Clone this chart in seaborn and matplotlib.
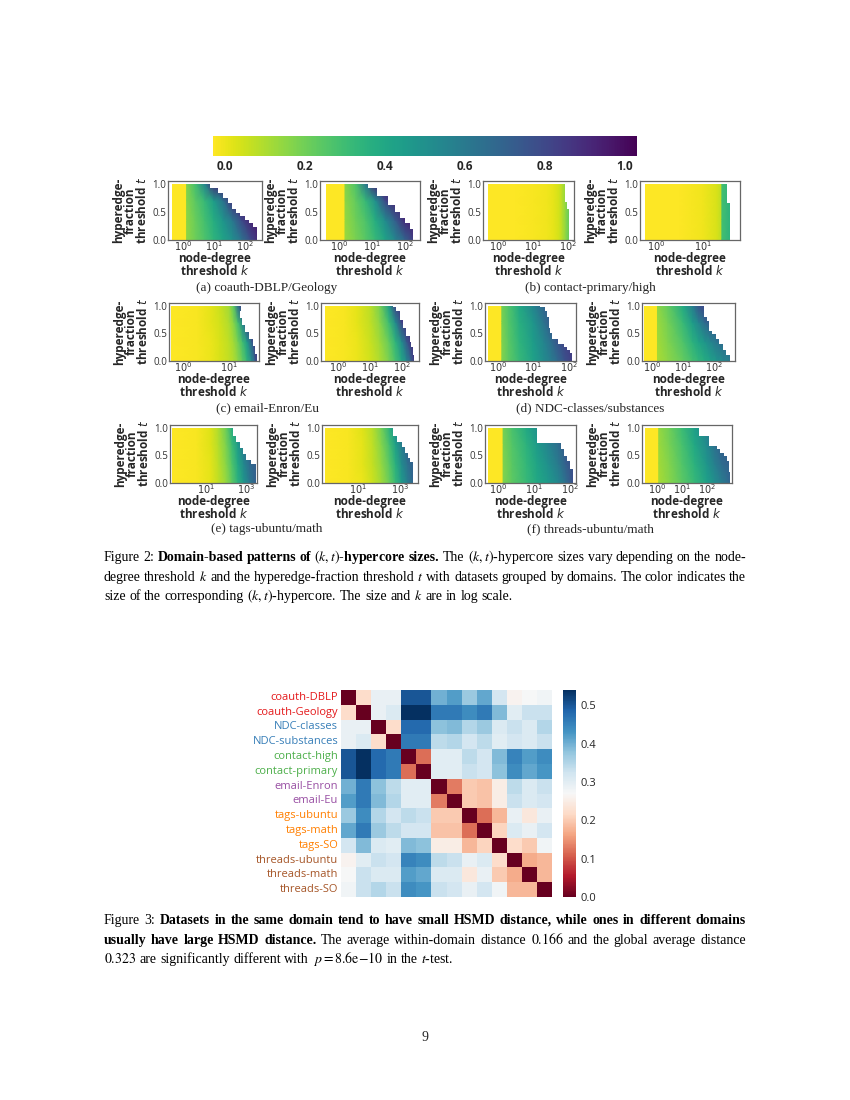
import numpy as np
import matplotlib
matplotlib.use("Agg")
import matplotlib.pyplot as plt
from matplotlib.patches import Polygon
from matplotlib.cm import ScalarMappable
from matplotlib.colors import Normalize
import seaborn as sns

# ------------------------------------------------------------------ data
# (k,t)-hypercore size panels: node positions in log10(k), colour values at
# those nodes for t = T_NODES, boundary steps (t_start, log10 kmax)
T_NODES = [0.0, 0.35, 0.7, 1.0]

A1_x = [-0.36, 0.11, 0.12, 0.4, 0.7, 1.0, 1.3, 1.6, 1.9, 2.2, 2.45]
A1_v = [[0, 0, 0.17, 0.22, 0.28, 0.35, 0.42, 0.50, 0.62, 0.78, 0.90],
        [0, 0, 0.17, 0.23, 0.30, 0.38, 0.48, 0.60, 0.78, 0.90, 0.92],
        [0, 0, 0.18, 0.25, 0.33, 0.45, 0.62, 0.85, 0.92, 0.92, 0.92],
        [0, 0, 0.19, 0.30, 0.55, 0.88, 0.92, 0.92, 0.92, 0.92, 0.92]]
A1_bound = [(0.0, 2.40), (0.18, 2.38), (0.24, 2.25), (0.30, 2.14), (0.36, 2.0), (0.42, 1.84),
            (0.48, 1.71), (0.56, 1.57), (0.65, 1.46), (0.74, 1.30), (0.83, 1.14), (0.92, 0.87)]

A2_x = [-0.39, 0.17, 0.18, 0.5, 0.8, 1.1, 1.4, 1.7, 2.0, 2.3]
A2_v = [[0, 0, 0.15, 0.20, 0.26, 0.33, 0.42, 0.54, 0.68, 0.85],
        [0, 0, 0.16, 0.22, 0.28, 0.38, 0.52, 0.70, 0.88, 0.90],
        [0, 0, 0.17, 0.24, 0.33, 0.50, 0.78, 0.90, 0.90, 0.90],
        [0, 0, 0.18, 0.28, 0.60, 0.90, 0.90, 0.90, 0.90, 0.90]]
A2_bound = [(0.0, 2.24), (0.2, 2.15), (0.3, 2.0), (0.4, 1.85), (0.5, 1.7), (0.62, 1.48),
            (0.78, 1.14), (0.92, 0.88)]

B1_x = [-0.29, 0.5, 1.0, 1.4, 1.6, 1.75, 1.85, 1.95, 2.05]
B1_v = [[0, 0.0, 0.01, 0.02, 0.04, 0.07, 0.12, 0.18, 0.25]] * 4
B1_bound = [(0.0, 2.03), (0.55, 1.97), (0.68, 1.90)]

B2_x = [-0.25, 0.5, 1.0, 1.3, 1.40, 1.41, 1.6]
B2_v = [[0, 0.0, 0.02, 0.06, 0.10, 0.30, 0.36]] * 4
B2_bound = [(0.0, 1.59), (0.65, 1.52)]

C1_x = [-0.27, 0.3, 0.6, 0.8, 1.0, 1.1, 1.2, 1.3, 1.4, 1.5, 1.58, 1.65]
C1_v = [[0, 0.01, 0.03, 0.06, 0.09, 0.12, 0.17, 0.24, 0.34, 0.50, 0.72, 0.85],
        [0, 0.01, 0.03, 0.06, 0.10, 0.14, 0.21, 0.31, 0.46, 0.70, 0.85, 0.85],
        [0, 0.01, 0.04, 0.07, 0.12, 0.18, 0.30, 0.55, 0.80, 0.85, 0.85, 0.85],
        [0, 0.01, 0.04, 0.08, 0.14, 0.25, 0.65, 0.85, 0.85, 0.85, 0.85, 0.85]]
C1_bound = [(0.0, 1.62), (0.12, 1.58), (0.28, 1.52), (0.4, 1.44), (0.52, 1.36), (0.65, 1.28),
            (0.78, 1.24), (0.9, 1.26)]

C2_x = [-0.41, 0.2, 0.6, 1.0, 1.3, 1.6, 1.8, 2.0, 2.15, 2.3, 2.4]
C2_v = [[0, 0.01, 0.03, 0.07, 0.12, 0.20, 0.29, 0.40, 0.52, 0.70, 0.85],
        [0, 0.01, 0.03, 0.08, 0.14, 0.24, 0.35, 0.52, 0.72, 0.85, 0.85],
        [0, 0.01, 0.04, 0.09, 0.17, 0.32, 0.52, 0.80, 0.85, 0.85, 0.85],
        [0, 0.01, 0.04, 0.10, 0.20, 0.45, 0.80, 0.85, 0.85, 0.85, 0.85]]
C2_bound = [(0.0, 2.38), (0.1, 2.35), (0.25, 2.30), (0.35, 2.25), (0.45, 2.14), (0.6, 2.03),
            (0.75, 1.93), (0.9, 1.82), (0.97, 1.72)]

D1_x = [-0.29, 0.09, 0.1, 0.3, 0.6, 1.0, 1.3, 1.5, 1.7, 1.9, 2.1]
D1_v = [[0, 0, 0.19, 0.25, 0.33, 0.43, 0.52, 0.58, 0.66, 0.75, 0.82],
        [0, 0, 0.19, 0.26, 0.35, 0.45, 0.55, 0.64, 0.74, 0.80, 0.82],
        [0, 0, 0.20, 0.27, 0.37, 0.48, 0.62, 0.72, 0.78, 0.80, 0.82],
        [0, 0, 0.21, 0.28, 0.40, 0.55, 0.68, 0.72, 0.78, 0.80, 0.82]]
D1_bound = [(0.0, 2.10), (0.15, 2.05), (0.2, 1.95), (0.25, 1.86), (0.3, 1.71), (0.4, 1.52),
            (0.5, 1.48), (0.6, 1.43), (0.8, 1.38), (0.9, 1.33), (0.97, 1.19)]

D2_x = [-0.28, 0.16, 0.17, 0.5, 1.0, 1.3, 1.5, 1.7, 1.9, 2.1, 2.3, 2.5]
D2_v = [[0, 0, 0.13, 0.17, 0.24, 0.30, 0.34, 0.38, 0.43, 0.48, 0.53, 0.58],
        [0, 0, 0.14, 0.19, 0.28, 0.36, 0.42, 0.48, 0.55, 0.62, 0.66, 0.66],
        [0, 0, 0.15, 0.21, 0.33, 0.45, 0.55, 0.66, 0.72, 0.72, 0.72, 0.72],
        [0, 0, 0.17, 0.24, 0.40, 0.58, 0.74, 0.78, 0.78, 0.78, 0.78, 0.78]]
D2_bound = [(0.0, 2.50), (0.1, 2.39), (0.2, 2.27), (0.3, 2.17), (0.4, 2.06), (0.48, 1.93),
            (0.55, 1.83), (0.72, 1.77), (0.8, 1.67)]

E1_x = [-0.75, 0.5, 1.2, 1.6, 2.0, 2.3, 2.6, 2.9, 3.2, 3.5]
E1_v = [[0, 0.01, 0.04, 0.09, 0.16, 0.25, 0.36, 0.48, 0.60, 0.70],
        [0, 0.01, 0.04, 0.10, 0.18, 0.28, 0.40, 0.54, 0.66, 0.70],
        [0, 0.01, 0.05, 0.11, 0.20, 0.32, 0.46, 0.60, 0.70, 0.70],
        [0, 0.01, 0.05, 0.12, 0.23, 0.38, 0.50, 0.60, 0.70, 0.70]]
E1_bound = [(0.0, 3.50), (0.35, 3.25), (0.42, 3.0), (0.52, 2.83), (0.63, 2.67), (0.75, 2.5),
            (0.85, 2.33)]

E2_x = [-0.6, 0.5, 1.2, 1.7, 2.1, 2.5, 2.8, 3.1, 3.4, 3.7]
E2_v = [[0, 0.01, 0.03, 0.08, 0.14, 0.23, 0.33, 0.46, 0.58, 0.70],
        [0, 0.01, 0.04, 0.09, 0.16, 0.26, 0.37, 0.52, 0.64, 0.70],
        [0, 0.01, 0.04, 0.10, 0.18, 0.30, 0.44, 0.58, 0.70, 0.70],
        [0, 0.01, 0.05, 0.11, 0.21, 0.36, 0.50, 0.60, 0.70, 0.70]]
E2_bound = [(0.0, 3.66), (0.38, 3.5), (0.45, 3.4), (0.55, 3.25), (0.65, 3.1), (0.75, 2.85),
            (0.85, 2.69)]

F1_x = [-0.28, 0.13, 0.14, 0.4, 0.8, 1.1, 1.4, 1.7, 1.9, 2.1]
F1_v = [[0, 0, 0.19, 0.25, 0.33, 0.40, 0.46, 0.54, 0.64, 0.76],
        [0, 0, 0.19, 0.26, 0.34, 0.42, 0.50, 0.60, 0.70, 0.76],
        [0, 0, 0.20, 0.27, 0.36, 0.46, 0.55, 0.65, 0.72, 0.76],
        [0, 0, 0.21, 0.29, 0.40, 0.50, 0.55, 0.65, 0.72, 0.76]]
F1_bound = [(0.0, 2.09), (0.26, 2.02), (0.4, 1.92), (0.49, 1.83), (0.61, 1.76), (0.72, 1.08)]

F2_x = [-0.47, 0.06, 0.07, 0.5, 1.0, 1.5, 2.0, 2.3, 2.6, 2.95]
F2_v = [[0, 0, 0.13, 0.18, 0.25, 0.33, 0.43, 0.50, 0.58, 0.68],
        [0, 0, 0.14, 0.19, 0.27, 0.36, 0.48, 0.57, 0.65, 0.70],
        [0, 0, 0.15, 0.21, 0.29, 0.40, 0.53, 0.63, 0.70, 0.70],
        [0, 0, 0.16, 0.22, 0.32, 0.44, 0.55, 0.65, 0.70, 0.70]]
F2_bound = [(0.0, 2.93), (0.2, 2.87), (0.4, 2.8), (0.48, 2.67), (0.55, 2.53), (0.62, 2.4),
            (0.67, 2.07), (0.85, 1.67)]

SUBCAPTIONS = ["(a) coauth-DBLP/Geology", "(b) contact-primary/high", "(c) email-Enron/Eu",
               "(d) NDC-classes/substances", "(e) tags-ubuntu/math", "(f) threads-ubuntu/math"]
CB_TICKS = [0.0, 0.2, 0.4, 0.6, 0.8, 1.0]

# HSMD distance matrix
DATASETS = ["coauth-DBLP", "coauth-Geology", "NDC-classes", "NDC-substances",
            "contact-high", "contact-primary", "email-Enron", "email-Eu",
            "tags-ubuntu", "tags-math", "tags-SO", "threads-ubuntu", "threads-math", "threads-SO"]
DOMAIN = ["coauth", "coauth", "NDC", "NDC", "contact", "contact", "email", "email",
          "tags", "tags", "tags", "threads", "threads", "threads"]
HSMD = [
    [0.00, 0.22, 0.29, 0.29, 0.50, 0.50, 0.40, 0.42, 0.37, 0.41, 0.32, 0.26, 0.27, 0.28],
    [0.22, 0.00, 0.29, 0.31, 0.54, 0.54, 0.46, 0.46, 0.44, 0.46, 0.39, 0.30, 0.33, 0.33],
    [0.29, 0.29, 0.00, 0.22, 0.48, 0.48, 0.38, 0.39, 0.35, 0.37, 0.31, 0.33, 0.31, 0.35],
    [0.29, 0.31, 0.22, 0.00, 0.46, 0.46, 0.34, 0.35, 0.32, 0.34, 0.30, 0.32, 0.31, 0.33],
    [0.50, 0.54, 0.48, 0.46, 0.00, 0.12, 0.30, 0.30, 0.34, 0.32, 0.39, 0.45, 0.42, 0.44],
    [0.50, 0.54, 0.48, 0.46, 0.12, 0.00, 0.30, 0.30, 0.33, 0.32, 0.38, 0.44, 0.41, 0.43],
    [0.40, 0.46, 0.38, 0.34, 0.30, 0.30, 0.00, 0.13, 0.20, 0.19, 0.25, 0.34, 0.31, 0.33],
    [0.42, 0.46, 0.39, 0.35, 0.30, 0.30, 0.13, 0.00, 0.20, 0.19, 0.25, 0.33, 0.31, 0.32],
    [0.37, 0.44, 0.35, 0.32, 0.34, 0.33, 0.20, 0.20, 0.00, 0.12, 0.18, 0.29, 0.24, 0.29],
    [0.41, 0.46, 0.37, 0.34, 0.32, 0.32, 0.19, 0.19, 0.12, 0.00, 0.21, 0.31, 0.29, 0.32],
    [0.32, 0.39, 0.31, 0.30, 0.39, 0.38, 0.25, 0.25, 0.18, 0.21, 0.00, 0.22, 0.20, 0.28],
    [0.26, 0.30, 0.33, 0.32, 0.45, 0.44, 0.34, 0.33, 0.29, 0.31, 0.22, 0.00, 0.17, 0.18],
    [0.27, 0.33, 0.31, 0.31, 0.42, 0.41, 0.31, 0.31, 0.24, 0.29, 0.20, 0.17, 0.00, 0.18],
    [0.28, 0.33, 0.35, 0.33, 0.44, 0.43, 0.33, 0.32, 0.29, 0.32, 0.28, 0.18, 0.18, 0.00],
]
HSMD_TICKS = [0.0, 0.1, 0.2, 0.3, 0.4, 0.5]

# ------------------------------------------------------------------ style
sns.set_theme(style="white")
plt.rcParams['font.family'] = ['Open Sans', 'DejaVu Sans']
plt.rcParams['axes.edgecolor'] = '0.35'
plt.rcParams['axes.linewidth'] = 0.9

W, H = 850, 1100
fig = plt.figure(figsize=(8.5, 11), dpi=100)
fig.patch.set_facecolor('white')


def px_axes(x0, y0, x1, y1):
    return fig.add_axes([x0 / W, 1 - y1 / H, (x1 - x0) / W, (y1 - y0) / H])


def fy(y):
    return 1 - y / H


DOMAIN_COLORS = {"coauth": "#e41a1c", "NDC": "#377eb8", "contact": "#4daf4a",
                 "email": "#984ea3", "tags": "#ff7f00", "threads": "#a65628"}

# ------------------------------------------------------------------ top colorbar
cax_top = px_axes(213, 136, 637, 156)
sm = ScalarMappable(norm=Normalize(-0.03, 1.03), cmap='viridis_r')
cb = fig.colorbar(sm, cax=cax_top, orientation='horizontal', ticks=CB_TICKS)
cb.outline.set_visible(False)
cax_top.tick_params(length=0, pad=3)
cax_top.set_xticklabels([f"{v:.1f}" for v in CB_TICKS], fontsize=8.5, fontweight='bold')

# ------------------------------------------------------------------ hypercore panels
panels = [
    (A1_x, A1_v, A1_bound, (168, 181, 262, 240), (-0.48, 2.55), [0, 1, 2]),
    (A2_x, A2_v, A2_bound, (320, 181, 420, 240), (-0.58, 2.45), [0, 1, 2]),
    (B1_x, B1_v, B1_bound, (483, 181, 574, 240), (-0.43, 2.17), [0, 1, 2]),
    (B2_x, B2_v, B2_bound, (640, 181, 740, 240), (-0.36, 1.80), [0, 1]),
    (C1_x, C1_v, C1_bound, (169, 303, 259, 361), (-0.32, 1.66), [0, 1]),
    (C2_x, C2_v, C2_bound, (321, 303, 419, 361), (-0.54, 2.54), [0, 1, 2]),
    (D1_x, D1_v, D1_bound, (485, 303, 576, 361), (-0.38, 2.21), [0, 1, 2]),
    (D2_x, D2_v, D2_bound, (642, 303, 735, 361), (-0.33, 2.67), [0, 1, 2]),
    (E1_x, E1_v, E1_bound, (170, 425, 257, 483), (-0.83, 3.55), [1, 3]),
    (E2_x, E2_v, E2_bound, (322, 425, 418, 483), (-0.76, 3.88), [1, 3]),
    (F1_x, F1_v, F1_bound, (485, 425, 576, 483), (-0.37, 2.18), [0, 1, 2]),
    (F2_x, F2_v, F2_bound, (642, 425, 732, 483), (-0.60, 3.00), [0, 1, 2]),
]

for xs, vals, bound, box, xlim, ticks in panels:
    ax = px_axes(*box)
    mesh = ax.pcolormesh(np.array(xs), np.array(T_NODES), np.array(vals, float),
                         cmap='viridis_r', vmin=0, vmax=1, shading='gouraud',
                         rasterized=True)
    pts = [(xs[0], 0.0)]
    for i, (t0, b) in enumerate(bound):
        t1 = bound[i + 1][0] if i + 1 < len(bound) else 1.0
        pts += [(b, t0), (b, t1)]
    pts.append((xs[0], 1.0))
    poly = Polygon(pts, closed=True, transform=ax.transData, facecolor='none', edgecolor='none')
    mesh.set_clip_path(poly)
    ax.set_xlim(*xlim)
    ax.set_ylim(0, 1.05)
    ax.set_xticks(ticks)
    ax.set_xticklabels([f"$10^{{{e}}}$" for e in ticks], fontsize=7)
    ax.set_yticks([0.0, 0.5, 1.0])
    ax.set_yticklabels(["0.0", "0.5", "1.0"], fontsize=7)
    ax.tick_params(axis='x', length=0, pad=0.5, labelcolor='0.2')
    ax.tick_params(axis='y', length=0, pad=1.5, labelcolor='0.2')
    ax.set_xlabel("node-degree\nthreshold $k$", fontsize=8.5, fontweight='bold',
                  linespacing=0.85, labelpad=-1.5, color='0.15')
    ax.set_ylabel("hyperedge-\nfraction\nthreshold $t$", fontsize=8.5, fontweight='bold',
                  linespacing=0.85, labelpad=2, color='0.15')
    for sp in ax.spines.values():
        sp.set_visible(True)
        sp.set_color('0.4')

serif = 'Liberation Serif'
sub_pos = [(267, 288), (590, 288), (267, 408), (590, 408), (267, 529), (590, 529)]
for txt, (x, y) in zip(SUBCAPTIONS, sub_pos):
    fig.text(x / W, fy(y), txt, ha='center', va='center', fontsize=9.5, family=serif)

# ------------------------------------------------------------------ HSMD heatmap
hax = px_axes(341, 690, 552, 897)
hcb = px_axes(563, 690, 576, 897)
mat = np.array(HSMD)
sns.heatmap(mat, ax=hax, cbar_ax=hcb, cmap='RdBu', vmin=0, vmax=mat.max(),
            xticklabels=False, yticklabels=DATASETS, linewidths=0,
            cbar_kws={'ticks': HSMD_TICKS})
hax.tick_params(axis='y', length=0, pad=2)
for lab, dom in zip(hax.get_yticklabels(), DOMAIN):
    lab.set_color(DOMAIN_COLORS[dom])
    lab.set_fontsize(8)
    lab.set_rotation(0)
hcb.tick_params(length=0, pad=3, labelsize=8, labelcolor='0.15')
hcb.set_yticklabels([f"{v:.1f}" for v in HSMD_TICKS])
for sp in hcb.spines.values():
    sp.set_visible(False)

# ------------------------------------------------------------------ captions
renderer = fig.canvas.get_renderer()
FS = 10


def rich_line(x0, x1, y, segs, justify=True):
    arts, widths = [], []
    for text, weight in segs:
        for w in text.split(' '):
            if not w:
                continue
            t = fig.text(0, fy(y), w, fontsize=FS, fontweight=weight, family=serif,
                         va='baseline', ha='left', math_fontfamily='stix', color='black')
            arts.append(t)
            widths.append(t.get_window_extent(renderer).width)
    if justify and len(arts) > 1:
        gap = (x1 - x0 - sum(widths)) / (len(arts) - 1)
    else:
        gap = FS * 100 / 72 * 0.25
    x = x0
    for t, wd in zip(arts, widths):
        t.set_x(x / W)
        x += wd + gap


LX0, LX1 = 104, 746
rich_line(LX0, LX1, 561, [("Figure 2:", "normal"),
                          ("Domain-based patterns of $(k,t)$-hypercore sizes.", "bold"),
                          ("The $(k,t)$-hypercore sizes vary depending on the node-", "normal")])
rich_line(LX0, LX1, 581, [("degree threshold $k$ and the hyperedge-fraction threshold $t$ with datasets "
                           "grouped by domains. The color indicates the", "normal")])
rich_line(LX0, LX1, 600, [("size of the corresponding $(k,t)$-hypercore. The size and $k$ are in log scale.",
                           "normal")], justify=False)

rich_line(LX0, LX1, 924, [("Figure 3:", "normal"),
                          ("Datasets in the same domain tend to have small HSMD distance, while ones in "
                           "different domains", "bold")])
rich_line(LX0, LX1, 944, [("usually have large HSMD distance.", "bold"),
                          ("The average within-domain distance $0.166$ and the global average distance",
                           "normal")])
rich_line(LX0, LX1, 963, [(r"$0.323$ are significantly different with $p=8.6\mathrm{e}{-}10$ in the $t$-test.",
                           "normal")], justify=False)

fig.text(425 / W, fy(1041), "9", ha='center', va='baseline', fontsize=FS, family=serif)

fig.savefig("out.png", dpi=100, facecolor='white')
